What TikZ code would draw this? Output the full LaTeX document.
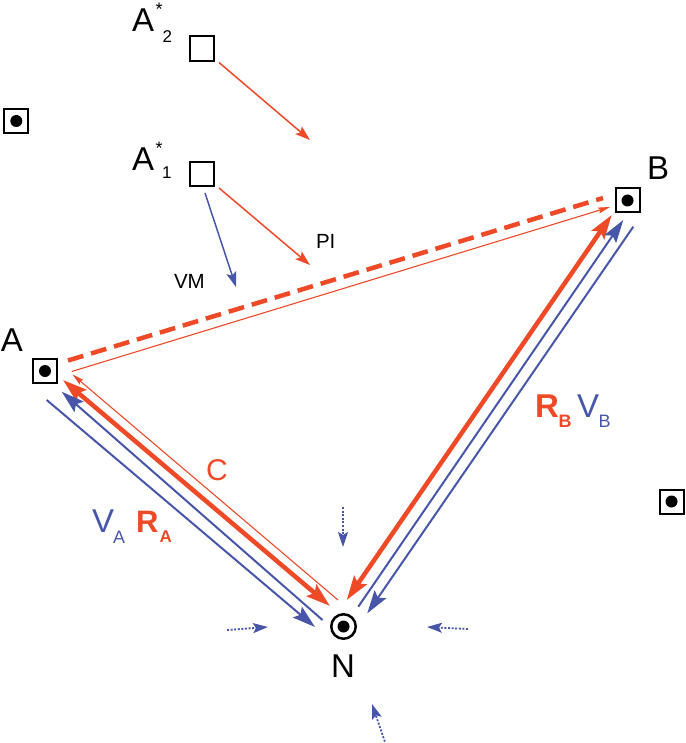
\documentclass[tikz,border=0pt]{standalone}
\usepackage{fontspec}
\setmainfont{Liberation Sans}
\usetikzlibrary{arrows.meta}
\definecolor{rd}{RGB}{238,74,40}
\definecolor{bl}{RGB}{72,86,170}
\tikzset{
  emptybox/.style={draw=black,line width=1.8pt,minimum size=24.5pt,inner sep=0pt},
  dotbox/.style={draw=black,line width=2pt,minimum size=24pt,inner sep=0pt,
    path picture={\fill[black] (path picture bounding box.center) circle (6pt);}},
  dotcircle/.style={circle,draw=black,line width=2.5pt,minimum size=24.5pt,inner sep=0pt,
    path picture={\fill[black] (path picture bounding box.center) circle (6pt);}},
  lbl/.style={anchor=base west,inner sep=0pt,outer sep=0pt},
  big/.style={font=\fontsize{33}{36}\selectfont},
  sub/.style={font=\fontsize{18}{20}\selectfont},
  thickred/.style={draw=rd,line width=4.5pt,{Stealth[length=24pt,width=15pt,inset=4pt]}-{Stealth[length=24pt,width=15pt,inset=4pt]}},
  bluearr/.style={draw=bl,line width=2pt,-{Stealth[length=23pt,width=14pt,inset=4pt]}},
  thinred/.style={draw=rd,line width=1.1pt,-{Stealth[length=12pt,width=6pt,inset=2pt]}},
  starred/.style={draw=rd,line width=1.5pt,-{Stealth[length=15pt,width=10pt,inset=3pt]}},
  starblue/.style={draw=bl,line width=1.5pt,-{Stealth[length=15pt,width=10pt,inset=3pt]}},
  dotarr/.style={draw=bl,line width=1.8pt,dash pattern=on 2pt off 1.6pt,-{Stealth[length=15pt,width=10pt,inset=3pt,sep=0pt]}},
}
\begin{document}
\begin{tikzpicture}[x=1pt,y=-1pt]
\useasboundingbox (0,0) rectangle (685,743);
% point nodes
\node[emptybox] (As2) at (202,48.5) {};
\node[emptybox] (As1) at (202,174) {};
\node[dotbox] (PL) at (16.3,121) {};
\node[dotbox] (PA) at (45,371) {};
\node[dotbox] (PB) at (627.5,200.5) {};
\node[dotbox] (PR) at (671.5,501.5) {};
\node[dotcircle] (PN) at (343.5,626.5) {};
% labels
\node[lbl,big] (lA) at (1,351) {A};
\node[lbl,big] (lB) at (647,180) {B};
\node[lbl,big] (lN) at (331,677) {N};
\node[lbl,big] (lAs2) at (132,32) {A};
\node[lbl,font=\fontsize{18}{20}\selectfont] (lAs2s) at (155.5,16) {*};
\node[lbl,font=\fontsize{17}{18}\selectfont] (lAs2i) at (162.5,43) {2};
\node[lbl,big] (lAs1) at (132,171) {A};
\node[lbl,font=\fontsize{18}{20}\selectfont] (lAs1s) at (155.5,155) {*};
\node[lbl,font=\fontsize{17}{18}\selectfont] (lAs1i) at (162,179) {1};
\node[lbl,font=\fontsize{20.5}{22}\selectfont] (lPI) at (316,248) {PI};
\node[lbl,font=\fontsize{20.5}{22}\selectfont] (lVM) at (174,288) {VM};
\node[lbl,font=\fontsize{30}{32}\selectfont,text=rd] (lC) at (206,480) {C};
\node[lbl,big,text=bl] (lVA) at (92,532) {V};
\node[lbl,sub,text=bl] (lVAs) at (113,543) {A};
\node[lbl,font=\bfseries\fontsize{31}{34}\selectfont,text=rd] (lRA) at (136,532) {R};
\node[lbl,font=\bfseries\fontsize{17}{19}\selectfont,text=rd] (lRAs) at (159.5,542) {A};
\node[lbl,font=\bfseries\fontsize{33}{36}\selectfont,text=rd] (lRB) at (535,417) {R};
\node[lbl,font=\bfseries\fontsize{18}{20}\selectfont,text=rd] (lRBs) at (558.5,427) {B};
\node[lbl,big,text=bl] (lVB) at (577,417) {V};
\node[lbl,sub,text=bl] (lVBs) at (598.5,427) {B};
% connector end coordinates
\coordinate (ds) at (68,360.5);   \coordinate (de) at (603,198);
\coordinate (tAB1) at (71.7,371.5); \coordinate (tAB2) at (610,207);
\coordinate (tNA1) at (338,600);  \coordinate (tNA2) at (72.5,374.5);
\coordinate (rA1) at (63,380);    \coordinate (rA2) at (330,606);
\coordinate (bAi1) at (322.5,620); \coordinate (bAi2) at (61.7,391.7);
\coordinate (bAo1) at (46.7,400); \coordinate (bAo2) at (315,627);
\coordinate (rB1) at (346.7,600); \coordinate (rB2) at (611.7,215);
\coordinate (bBi1) at (358.3,606.7); \coordinate (bBi2) at (623.3,220);
\coordinate (bBo1) at (633.3,226.7); \coordinate (bBo2) at (367.3,613.3);
\coordinate (s2a) at (219,62.5);  \coordinate (s2b) at (310,140);
\coordinate (s1a) at (219,188);   \coordinate (s1b) at (310,265);
\coordinate (s1c) at (205,193);   \coordinate (s1d) at (236,287);
\coordinate (dT1) at (343,507);   \coordinate (dT2) at (343,547);
\coordinate (dL1) at (227,630);   \coordinate (dL2) at (268,627);
\coordinate (dR1) at (468,629);   \coordinate (dR2) at (427,627);
\coordinate (dB1) at (386,745);   \coordinate (dB2) at (372,704);
% A-B
\draw[rd,line width=4.5pt,dash pattern=on 16pt off 8pt] (ds) -- (de);
\draw[thinred] (tAB1) -- (tAB2);
% A-N
\draw[thinred] (tNA1) -- (tNA2);
\draw[thickred] (rA1) -- (rA2);
\draw[bluearr] (bAi1) -- (bAi2);
\draw[bluearr] (bAo1) -- (bAo2);
% B-N
\draw[thickred] (rB1) -- (rB2);
\draw[bluearr] (bBi1) -- (bBi2);
\draw[bluearr] (bBo1) -- (bBo2);
% A* arrows
\draw[starred] (s2a) -- (s2b);
\draw[starred] (s1a) -- (s1b);
\draw[starblue] (s1c) -- (s1d);
% dotted arrows toward N
\draw[dotarr] (dT1) -- (dT2);
\draw[dotarr] (dL1) -- (dL2);
\draw[dotarr] (dR1) -- (dR2);
\draw[dotarr] (dB1) -- (dB2);
\end{tikzpicture}
\end{document}
